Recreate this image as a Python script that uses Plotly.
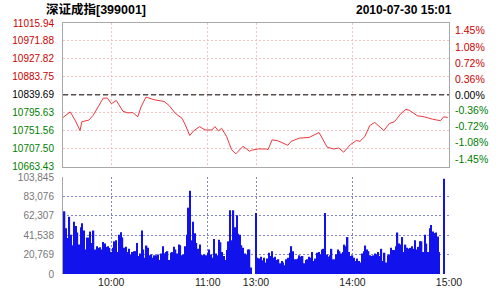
import plotly.graph_objects as go

title_text = "深证成指[399001]"
date_text = "2010-07-30 15:01"
prev_close = 10839.69
price_ticks = [11015.94, 10971.88, 10927.82, 10883.75, 10839.69, 10795.63, 10751.56, 10707.50, 10663.43]
pct_ticks = [1.45, 1.08, 0.72, 0.36, 0.00, -0.36, -0.72, -1.08, -1.45]
vol_ticks = [0, 20769, 41538, 62307, 83076, 103845]
time_ticks = [30, 90, 120, 180, 240]
time_labels = ["10:00", "11:00", "13:00", "14:00", "15:00"]

# minute index (0 = 9:30, 120 = 11:30/13:00, 240 = 15:00) and index level
price_minutes = [0, 4.5, 7.5, 10.6, 11.7, 16.1, 18.8, 21.9, 25, 27.6, 30.1, 33.1, 37.3, 40.3,
                 43.4, 46.5, 48.5, 51.6, 56.7, 62.8, 65.9, 70, 74.1, 76.1, 78.8, 81.2, 84.9,
                 88.4, 92.5, 94.5, 96.6, 98.6, 101.7, 104.8, 107.4, 111.9, 116, 117.2, 121.4,
                 126.5, 127.5, 130, 133.6, 139.8, 141.8, 146.9, 153, 159.2, 161.3, 164.3,
                 168.4, 171.5, 174.5, 178.6, 182.5, 184.6, 187.7, 190.7, 193.8, 196.9, 199.5,
                 203, 206.1, 210.1, 213.2, 215.3, 220.4, 224.5, 229.6, 234.7, 236.7, 239.2]
price_values = [10784.2, 10797.9, 10777.7, 10752.1, 10773.8, 10777.7, 10789.7, 10810.0,
                10831.7, 10831.7, 10818.0, 10825.9, 10799.4, 10795.5, 10796.2, 10785.9,
                10810.0, 10834.1, 10827.6, 10823.5, 10813.9, 10793.8, 10781.8, 10765.6,
                10740.0, 10751.1, 10761.7, 10753.5, 10753.5, 10761.7, 10751.1, 10757.6,
                10737.6, 10705.2, 10694.9, 10713.4, 10701.4, 10703.8, 10706.9, 10706.9,
                10705.2, 10729.4, 10727.0, 10715.9, 10725.5, 10733.5, 10735.2, 10747.2,
                10733.5, 10711.0, 10706.9, 10709.3, 10699.0, 10717.3, 10727.9, 10725.5,
                10737.6, 10764.1, 10772.1, 10761.7, 10752.1, 10769.7, 10773.8, 10793.8,
                10804.2, 10801.8, 10788.3, 10785.9, 10780.1, 10776.2, 10785.9, 10784.2]

vol_am = [67200, 49000, 38500, 61300, 42000, 30800, 56000, 51500, 44500, 31500,
          50000, 54300, 46600, 26300, 39200, 39200, 45500, 33300, 46600, 26300,
          29800, 28000, 28700, 26300, 34300, 32600, 29100, 29800, 28000, 23500,
          28000, 35000, 36100, 23500, 42000, 44800, 39200, 28000, 29100, 23500,
          27000, 21000, 23500, 24500, 24500, 33300, 19300, 22000, 46600, 26300, 17500,
          30500, 28000, 20000, 21000, 17500, 20000, 20000, 21000, 15100, 22100,
          29800, 22100, 23500, 24500, 15100, 22800, 23500, 29100, 26300, 22100,
          31500, 30800, 20000, 21000, 29800, 42000, 71100, 89300, 36100, 56000,
          43800, 33300, 27000, 31500, 21000, 20000, 21000, 20000, 23000, 26300, 21000,
          17500, 37500, 22100, 20000, 36800, 34000, 23500, 19300, 15100, 25600,
          35000, 68300, 36100, 68300, 50000, 63000, 43100, 42000, 30800, 28000,
          22100, 21000, 26300, 26300, 7000]
vol_pm = [65500, 17500, 16500, 18600, 14700, 17500, 12300, 16500, 22800, 19300,
          24500, 17500, 18600, 15100, 15800, 11600, 14000, 12300, 9500, 15800,
          17500, 22800, 29800, 24500, 15800, 15800, 16500, 20000, 18600, 19300,
          11600, 15100, 15800, 18600, 17500, 23500, 14000, 16500, 22800, 23500,
          21000, 26300, 27000, 65500, 21000, 18600, 20000, 27000, 15800, 15800,
          21000, 26300, 24500, 22100, 23500, 31500, 29800, 39600, 23500, 19300,
          20000, 17500, 14000, 16500, 14000, 12300, 22100, 24500, 30500, 26300,
          24500, 20000, 19300, 20000, 22100, 21000, 23500, 19300, 27000, 14000, 22800,
          12300, 20000, 21000, 28000, 25600, 25600, 29800, 44500, 32600, 31500,
          39600, 23500, 31500, 28000, 27000, 28000, 29800, 27000, 36100, 26300, 29100,
          35000, 35000, 23500, 42000, 32600, 23500, 49000, 52500, 45500, 43800,
          44500, 40300, 23500]
vol_close = 102200
am_start, pm_start, close_minute = 1, 120, 237

FONT = "Arial, Liberation Sans, Noto Sans CJK SC, sans-serif"
RED, GREEN, BLACK = "#cc0000", "#008000", "#000000"


def colored(text, v, ref):
    c = RED if v > ref else (GREEN if v < ref else BLACK)
    return f'<span style="color:{c}">{text}</span>'


vol_x = [am_start + i for i in range(len(vol_am))] + \
        [pm_start + i for i in range(len(vol_pm))] + [close_minute]
vol_y = vol_am + vol_pm + [vol_close]

pct_range = (price_ticks[0] - prev_close) / prev_close * 100

fig = go.Figure()
fig.add_trace(go.Scatter(x=price_minutes, y=price_values, mode="lines",
                         line=dict(color="#e8393e", width=1), xaxis="x", yaxis="y",
                         hoverinfo="skip"))
fig.add_trace(go.Scatter(x=price_minutes, y=[(v - prev_close) / prev_close * 100 for v in price_values],
                         mode="lines", line=dict(color="rgba(0,0,0,0)", width=0),
                         xaxis="x", yaxis="y3", hoverinfo="skip"))
fig.add_trace(go.Bar(x=vol_x, y=vol_y, marker=dict(color="#1212ec", line=dict(width=0)),
                     xaxis="x2", yaxis="y2", hoverinfo="skip"))

top_dom = [0.4275, 1.0]
bot_dom = [0.0, 0.386]

PINK = "#f4c4c4"
BLUEGRID = "#8484d4"

fig.update_layout(
    width=500, height=300,
    margin=dict(l=61, r=48, t=23, b=22),
    paper_bgcolor="white", plot_bgcolor="white",
    showlegend=False, bargap=0.15,
    font=dict(family=FONT, size=10, color="#333333"),
    xaxis=dict(domain=[0, 1], anchor="y", range=[0, 240], tickvals=time_ticks,
               showticklabels=False, showgrid=True, gridcolor=PINK, griddash="2px,2px",
               gridwidth=1, zeroline=False, showline=True, linecolor="#a8a8a8",
               mirror=True, ticks=""),
    yaxis=dict(domain=top_dom, anchor="x", range=[price_ticks[-1], price_ticks[0]],
               tickvals=price_ticks,
               ticktext=[colored(f"{v:.2f}", v, prev_close) for v in price_ticks],
               tickfont=dict(size=10, family=FONT), ticklabelstandoff=6,
               showgrid=True, gridcolor=PINK, griddash="2px,2px", zeroline=False,
               showline=True, linecolor="#a8a8a8", mirror=True, ticks=""),
    yaxis3=dict(overlaying="y", side="right", anchor="x", range=[-pct_range, pct_range],
                tickvals=pct_ticks,
                ticktext=[colored(f"{v:.2f}%", v, 0) for v in pct_ticks],
                tickfont=dict(size=10.5, family=FONT), ticklabelstandoff=5,
                showgrid=False, zeroline=False, showline=False, ticks=""),
    xaxis2=dict(domain=[0, 1], anchor="y2", matches="x", range=[0, 240], tickvals=time_ticks,
                ticktext=time_labels, tickfont=dict(size=10.5, color="#222222"),
                showgrid=True, gridcolor=BLUEGRID, griddash="2px,2px", zeroline=False,
                showline=False, ticks=""),
    yaxis2=dict(domain=bot_dom, anchor="x2", range=[0, vol_ticks[-1]], tickvals=vol_ticks,
                ticktext=[f"{v:,}" for v in vol_ticks],
                tickfont=dict(size=10, color="#777777"), ticklabelstandoff=6,
                showgrid=True, gridcolor=BLUEGRID, griddash="2px,2px", zeroline=False,
                showline=True, linecolor="#a8a8a8", ticks=""),
    annotations=[
        dict(text=f"<b>{title_text}</b>", xref="paper", yref="paper", x=-0.049, y=1.052,
             xanchor="left", yanchor="middle", showarrow=False,
             font=dict(size=12.5, color="#000000", family=FONT)),
        dict(text=f"<b>{date_text}</b>", xref="paper", yref="paper", x=1.013, y=1.052,
             xanchor="right", yanchor="middle", showarrow=False,
             font=dict(size=12, color="#000000", family=FONT)),
    ],
    shapes=[
        dict(type="line", xref="x", yref="y", x0=0, x1=240, y0=prev_close, y1=prev_close,
             line=dict(color="#000000", width=1, dash="5px,3px")),
    ],
)

fig.write_html("out.html")
